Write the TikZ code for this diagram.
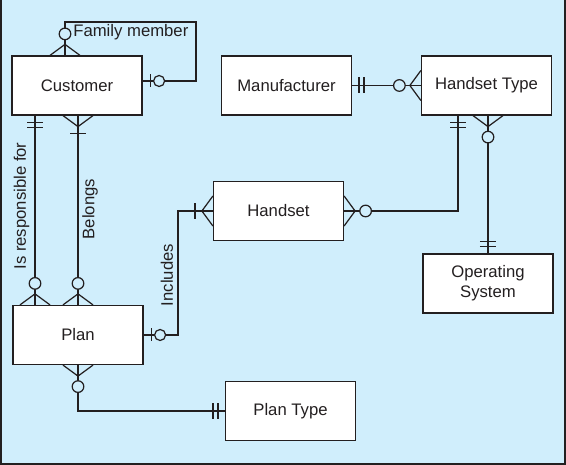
\documentclass[tikz,border=0pt]{standalone}
\usepackage{fontspec}
\setmainfont{Liberation Sans}
\usetikzlibrary{positioning,calc}
\definecolor{bgblue}{RGB}{208,238,252}
\definecolor{ink}{RGB}{35,31,32}

\begin{document}
\begin{tikzpicture}[x=0.02cm,y=-0.02cm] % one unit is one pixel of the reference
\tikzset{entity/.style={draw=ink,fill=white,line width=0.7pt,minimum width=2.6cm,minimum height=1.18cm,inner sep=0pt,align=center,text=ink,font=\fontsize{9.5}{11.4}\selectfont}}
\tikzset{rel/.style={draw=ink,line width=0.7pt}}
\tikzset{lbl/.style={text=ink,inner sep=0pt,font=\fontsize{9.5}{11.4}\selectfont}}
% crow's foot ends, drawn pointing away from the box
\tikzset{zmany/.pic={\draw[rel] (0,15) -- (11,0) -- (0,-15); \draw[rel,fill=bgblue] (21.5,0) circle (5.8);}}
\tikzset{omany/.pic={\draw[rel] (0,15) -- (11,0) -- (0,-15); \draw[rel] (18,-8) -- (18,8);}}
\tikzset{zone/.pic={\draw[rel] (8,-6.5) -- (8,6.5); \draw[rel,fill=bgblue] (16.5,0) circle (5.5);}}
\tikzset{oneone/.pic={\draw[rel] (7,-8) -- (7,8); \draw[rel] (12,-8) -- (12,8);}}

\useasboundingbox (0,0) rectangle (566,465);
\fill[bgblue] (0,0) rectangle (566,465);
\draw[ink,line width=1.1pt] (1,0) -- (1,464) -- (565,464) -- (565,0);

\node[entity] (cust) at (77,85.5) {Customer};
\node[entity] (manu) at (286.5,85.5) {Manufacturer};
\node[entity] (htype) at (486.5,85.5) {Handset Type};
\node[entity] (hset) at (278.5,211) {Handset};
\node[entity] (os) at (488,283.5) {Operating\\System};
\node[entity] (plan) at (78,335) {Plan};
\node[entity] (ptype) at (290.5,411) {Plan Type};

\coordinate (famtop) at (65,22);
\coordinate (famright) at (196,81);
\coordinate (resp) at (35,0);
\coordinate (inc) at (178,0);
\coordinate (hsbend) at (458,0);

% Family member
\draw[rel] (famtop |- cust.north) -- (famtop) -| (famright) -- (famright -| cust.east);
\pic[rotate=90] at (famtop |- cust.north) {zmany};
\pic at (famright -| cust.east) {zone};
\node[lbl,anchor=west] (famlbl) at (73,32) {Family member};

% Is responsible for
\draw[rel] (resp |- cust.south) -- (resp |- plan.north);
\pic[rotate=-90] at (resp |- cust.south) {oneone};
\pic[rotate=90] at (resp |- plan.north) {zmany};
\node[lbl,rotate=90] (resplbl) at (21.5,206) {Is responsible for};

% Belongs
\draw[rel] (plan.north |- cust.south) -- (plan.north);
\pic[rotate=-90] at (plan.north |- cust.south) {omany};
\pic[rotate=90] at (plan.north) {zmany};
\node[lbl,rotate=90] (bellbl) at (90,209) {Belongs};

% Includes
\draw[rel] (plan.east) -| (inc |- hset.west) -- (hset.west);
\pic at (plan.east) {zone};
\pic[rotate=180] at (hset.west) {omany};
\node[lbl,rotate=90] (inclbl) at (167,275) {Includes};

% Handset to Handset Type
\draw[rel] (hset.east) -| (hsbend |- htype.south);
\pic at (hset.east) {zmany};
\pic[rotate=-90] at (hsbend |- htype.south) {oneone};

% Manufacturer to Handset Type
\draw[rel] (manu.east) -- (htype.west);
\pic at (manu.east) {oneone};
\pic[rotate=180] at (htype.west) {zmany};

% Handset Type to Operating System
\draw[rel] (os.north |- htype.south) -- (os.north);
\pic[rotate=-90] at (os.north |- htype.south) {zmany};
\pic[rotate=90] at (os.north) {oneone};

% Plan to Plan Type
\draw[rel] (plan.south) |- (ptype.west);
\pic[rotate=-90] at (plan.south) {zmany};
\pic[rotate=180] at (ptype.west) {oneone};
\end{tikzpicture}
\end{document}
